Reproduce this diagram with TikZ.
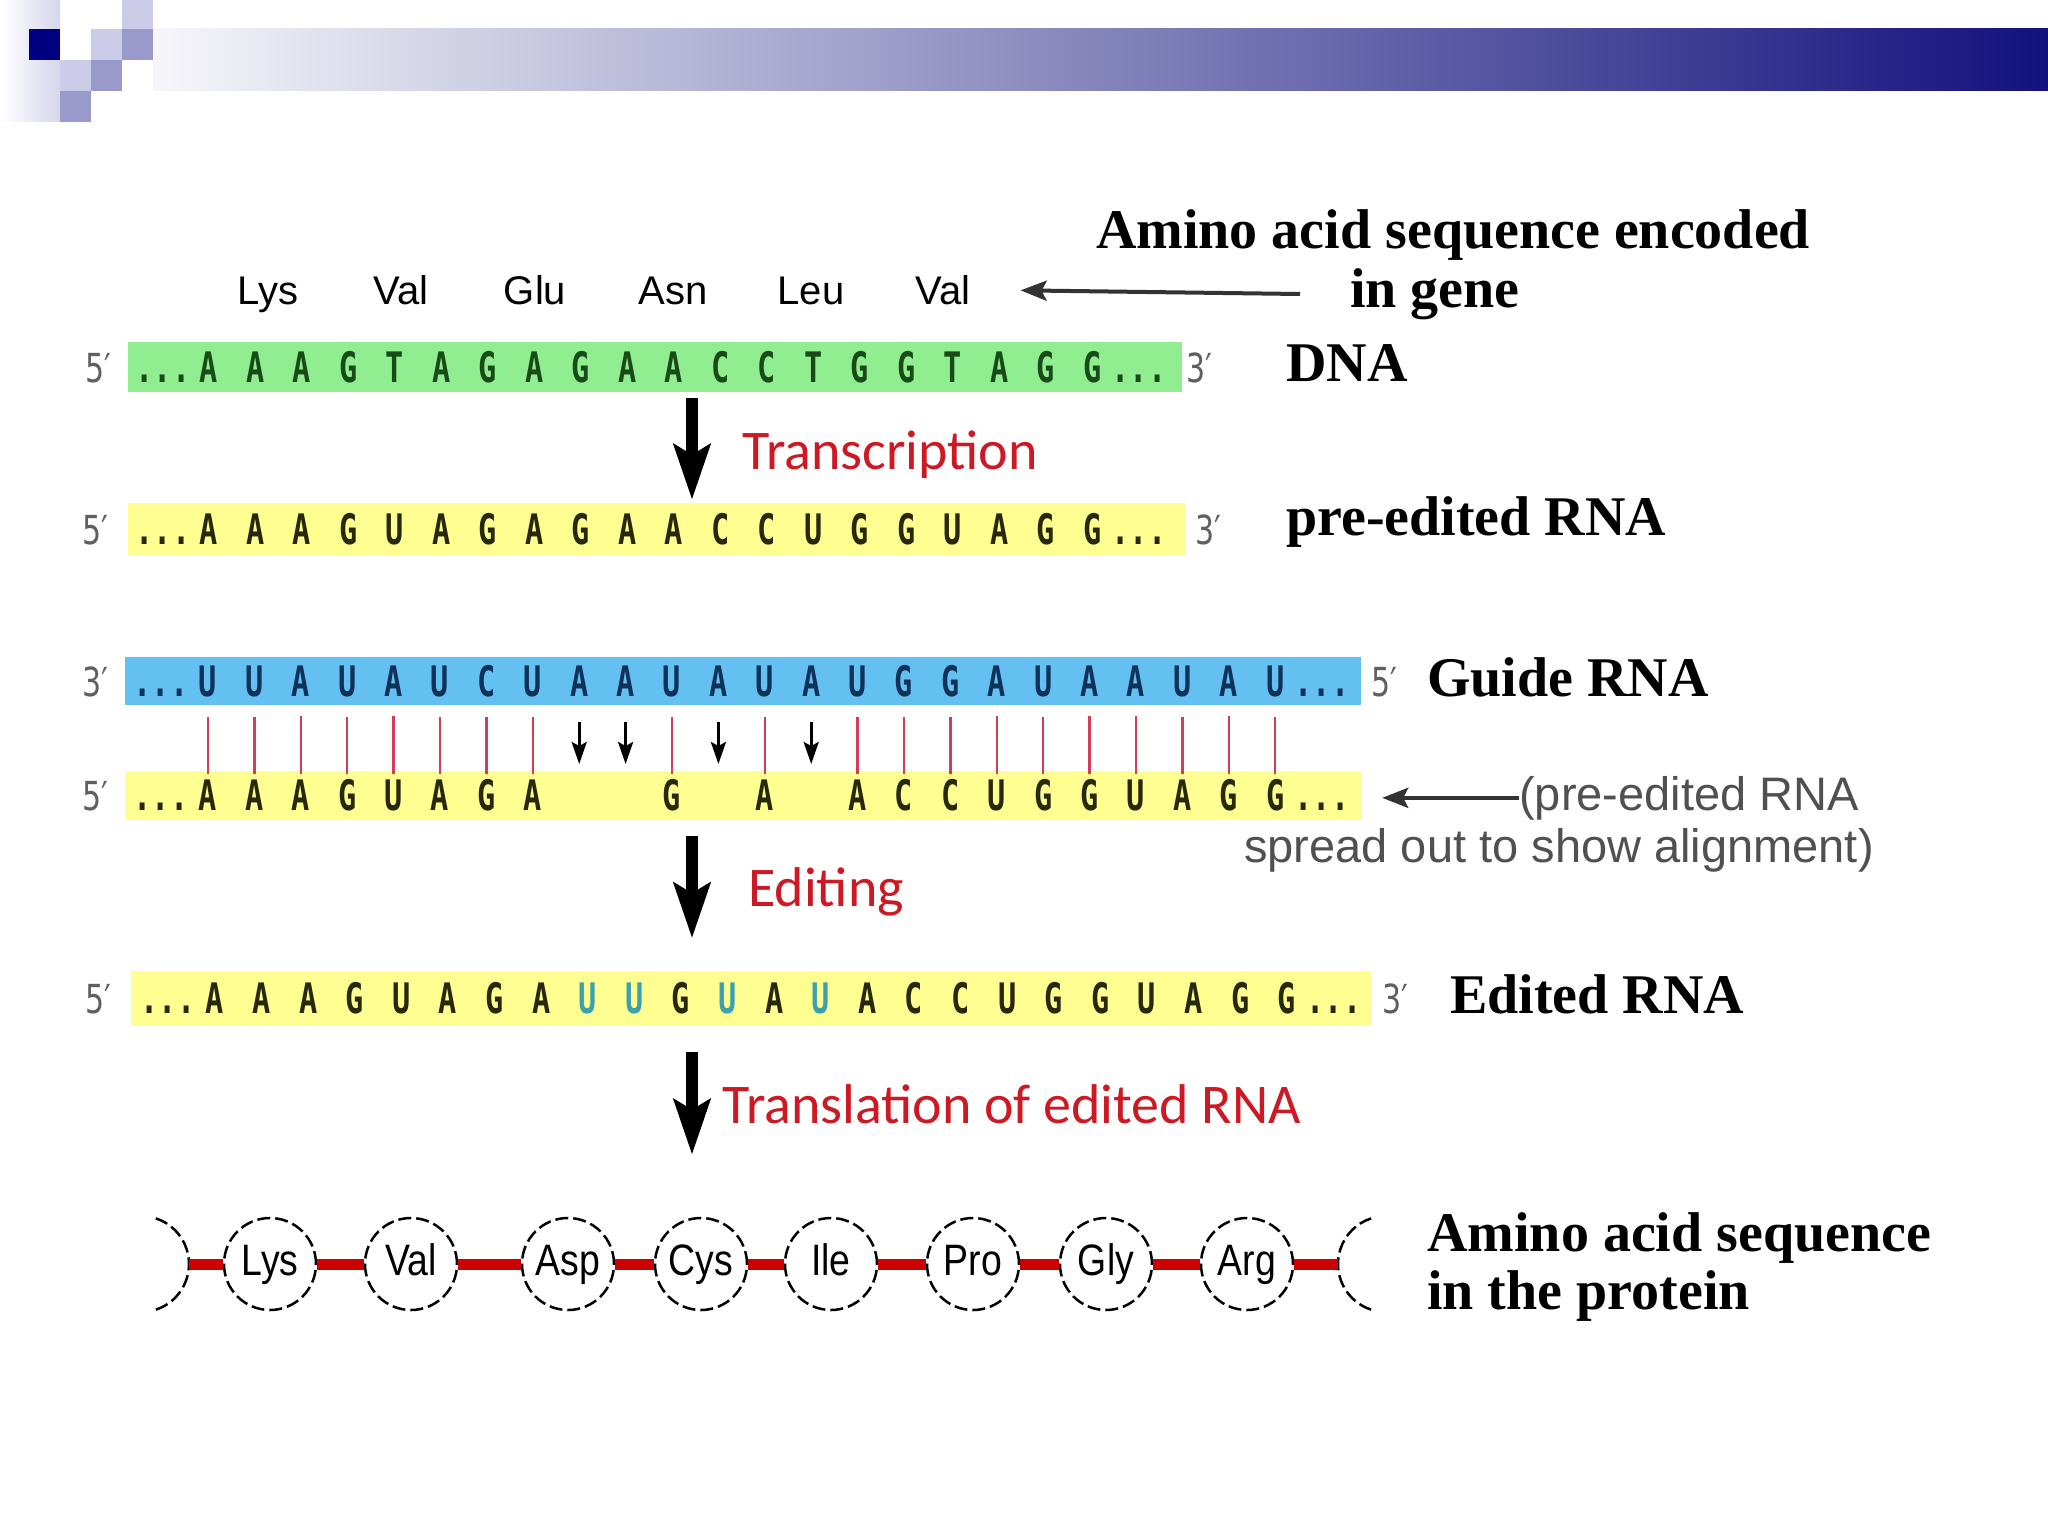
\documentclass[tikz,border=0pt]{standalone}
\usepackage{fontspec}
\setmainfont{Liberation Serif}
\newfontfamily\seqfont[FakeStretch=0.72]{DejaVu Sans Mono}
\newfontfamily\redfont{Carlito}
\newfontfamily\lblfont{Liberation Sans}
\newfontfamily\aafont[FakeStretch=0.85]{Liberation Sans}
\newfontfamily\primefont[FakeStretch=0.75]{DejaVu Sans}
\usetikzlibrary{arrows.meta,calc}

\definecolor{navyc}{RGB}{0,0,128}
\definecolor{lightsq}{RGB}{204,204,232}
\definecolor{medsq}{RGB}{153,153,204}
\definecolor{bandleft}{RGB}{246,246,250}
\definecolor{bandmid}{RGB}{145,145,198}
\definecolor{bandright}{RGB}{18,18,125}
\definecolor{dnagreen}{RGB}{144,238,144}
\definecolor{rnayellow}{RGB}{255,255,145}
\definecolor{guideblue}{RGB}{100,192,240}
\definecolor{dnaletter}{RGB}{25,75,25}
\definecolor{rnaletter}{RGB}{40,40,10}
\definecolor{guideletter}{RGB}{15,50,90}
\definecolor{editU}{RGB}{60,160,175}
\definecolor{labelred}{RGB}{205,25,35}
\definecolor{pairred}{RGB}{210,60,85}
\definecolor{bondred}{RGB}{205,0,0}
\definecolor{primegray}{RGB}{95,95,95}
\definecolor{notegray}{RGB}{80,80,80}

\begin{document}
\begin{tikzpicture}[x=1pt,y=-1pt,
  seq/.style={font=\seqfont\bfseries\fontsize{42}{44}\selectfont, inner sep=0pt, anchor=base},
  seqbar/.style={rectangle, inner sep=0pt, draw=none},
  prime/.style={font=\primefont\fontsize{40}{42}\selectfont, text=primegray, inner sep=0pt, anchor=base},
  heading/.style={font=\bfseries\fontsize{56}{60}\selectfont, inner sep=0pt, anchor=base west},
  steplabel/.style={font=\redfont\fontsize{56}{60}\selectfont, text=labelred, inner sep=0pt, anchor=base west},
  codon/.style={font=\lblfont\fontsize{40}{42}\selectfont, inner sep=0pt, anchor=base},
  note/.style={font=\lblfont\fontsize{47}{50}\selectfont, text=notegray, inner sep=0pt},
  aa/.style={circle, draw=black, line width=2.5pt, dash pattern=on 13pt off 5pt, minimum size=92pt, inner sep=0pt, text height=31pt, text depth=8pt, font=\aafont\fontsize{44}{46}\selectfont},
  aaline/.style={draw=black, line width=2.5pt, dash pattern=on 13pt off 5pt},
  bond/.style={draw=bondred, line width=11pt},
  bigarrow/.style={draw=black, line width=12pt, -{Stealth[length=55pt,width=36pt,inset=10pt]}},
  smallarrow/.style={draw=black, line width=3pt, -{Stealth[length=22pt,width=15pt,inset=4pt]}},
  harrow/.style={draw=black!80, line width=4pt, -{Stealth[length=26pt,width=20pt,inset=5pt]}},
  pairline/.style={draw=pairred, line width=2.5pt}
]
\useasboundingbox (0,0) rectangle (2048,1536);
\fill[white] (0,0) rectangle (2048,1536);

% header decoration
\shade[left color=white, right color=lightsq!80] (0,0) rectangle (60,122);
\shade[left color=bandleft, middle color=bandmid, right color=bandright] (153,29) rectangle (2048,91);
\fill[lightsq] (122,0) rectangle (153,29);
\fill[navyc] (29,29) rectangle (60,60);
\fill[lightsq] (91,29) rectangle (122,60);
\fill[medsq] (122,29) rectangle (153,60);
\fill[lightsq] (60,60) rectangle (91,91);
\fill[medsq] (91,60) rectangle (122,91);
\fill[medsq] (60,91) rectangle (91,122);

% amino acids encoded in gene
\node[heading, anchor=base] (enc1) at (1453,248) {Amino acid sequence encoded};
\node[heading, anchor=base] (enc2) at (1435,307) {in gene};
\foreach \n/\x [count=\k] in {Lys/268,Val/401,Glu/535,Asn/673,Leu/811,Val/943}
  \node[codon] (codon\k) at (\x,304) {\n};
\coordinate (encfrom) at (1300,294);
\draw[harrow, shorten >=50pt] (encfrom) -- (codon6.east);

% DNA
\node[seqbar, fill=dnagreen, minimum width=1054pt, minimum height=50pt] (dnabar) at (655,367) {};
\node[prime] (dnaFive) at (98,382) {5′};
\node[seq, text=dnaletter] (dnaL) at (163,382) {...};
\foreach \l [count=\i] in {A,A,A,G,T,A,G,A,G,A,A,C,C,T,G,G,T,A,G,G}
  \node[seq, text=dnaletter] (dna\i) at ({209+(\i-1)*46.5},382) {\l};
\node[seq, text=dnaletter] (dnaR) at (1139,382) {...};
\node[prime] (dnaThree) at (1199,382) {3′};
\node[heading] (dnalab) at (1286,381) {DNA};

% pre-edited RNA
\node[seqbar, fill=rnayellow, minimum width=1058pt, minimum height=52pt] (prebar) at (657,529) {};
\node[prime] (preFive) at (95,544) {5′};
\node[seq, text=rnaletter] (preL) at (163,544) {...};
\foreach \l [count=\i] in {A,A,A,G,U,A,G,A,G,A,A,C,C,U,G,G,U,A,G,G}
  \node[seq, text=rnaletter] (pre\i) at ({209+(\i-1)*46.5},544) {\l};
\node[seq, text=rnaletter] (preR) at (1139,544) {...};
\node[prime] (preThree) at (1208,544) {3′};
\node[heading] (prelab) at (1286,535) {pre-edited RNA};

% transcription
\coordinate (ax) at (692,0);
\draw[bigarrow] ($(dnabar.south -| ax)+(0,6)$) -- ($(prebar.north -| ax)+(0,-3)$);
\node[steplabel] (transcr) at (742,469) {Transcription};

% guide RNA
\node[seqbar, fill=guideblue, minimum width=1236pt, minimum height=48pt] (guidebar) at (743,681) {};
\node[prime] (guideThree) at (95,696) {3′};
\node[seq, text=guideletter] (guideL) at (161,696) {...};
\foreach \l [count=\i] in {U,U,A,U,A,U,C,U,A,A,U,A,U,A,U,G,G,A,U,A,A,U,A,U}
  \node[seq, text=guideletter] (guide\i) at ({208+(\i-1)*46.4},696) {\l};
\node[seq, text=guideletter] (guideR) at (1322,696) {...};
\node[prime] (guideFive) at (1384,696) {5′};
\node[heading] (guidelab) at (1427,696) {Guide RNA};

% spread pre-edited RNA
\node[seqbar, fill=rnayellow, minimum width=1237pt, minimum height=49pt] (spreadbar) at (743.5,795) {};
\node[prime] (spreadFive) at (95,810) {5′};
\node[seq, text=rnaletter] (spreadL) at (161,810) {...};
\foreach \i/\l in {1/A,2/A,3/A,4/G,5/U,6/A,7/G,8/A,11/G,13/A,15/A,16/C,17/C,18/U,19/G,20/G,21/U,22/A,23/G,24/G}
  \node[seq, text=rnaletter] (spread\i) at ({208+(\i-1)*46.4},810) {\l};
\node[seq, text=rnaletter] (spreadR) at (1322,810) {...};

% pairing lines and insertion arrows
\foreach \i in {1,2,3,4,5,6,7,8,11,13,15,16,17,18,19,20,21,22,23,24}
  \draw[pairline, shorten <=20pt, shorten >=5pt] (guide\i.south) -- (spread\i.north);
\foreach \i in {9,10,12,14} {
  \coordinate (gap\i) at ({208+(\i-1)*46.4},779);
  \draw[smallarrow, shorten <=26pt, shorten >=15pt] (guide\i.south) -- (gap\i);
}

% note
\node[note, anchor=base west] (note1) at (1519,810) {(pre-edited RNA};
\node[note, anchor=base] (note2) at (1559,862) {spread out to show alignment)};
\draw[harrow, shorten >=20pt] (note1.west) -- (note1.west -| spreadbar.east);

% edited RNA
\node[seqbar, fill=rnayellow, minimum width=1240pt, minimum height=55pt] (editbar) at (751,998) {};
\node[prime] (editFive) at (98,1013) {5′};
\node[seq, text=rnaletter] (editL) at (168,1013) {...};
\foreach \l/\c [count=\i] in {A/rnaletter,A/rnaletter,A/rnaletter,G/rnaletter,U/rnaletter,A/rnaletter,G/rnaletter,A/rnaletter,U/editU,U/editU,G/rnaletter,U/editU,A/rnaletter,U/editU,A/rnaletter,C/rnaletter,C/rnaletter,U/rnaletter,G/rnaletter,G/rnaletter,U/rnaletter,A/rnaletter,G/rnaletter,G/rnaletter}
  \node[seq, text=\c] (edit\i) at ({215+(\i-1)*46.6},1013) {\l};
\node[seq, text=rnaletter] (editR) at (1334,1013) {...};
\node[prime] (editThree) at (1395,1013) {3′};
\node[heading] (editlab) at (1450,1013) {Edited RNA};

% editing
\draw[bigarrow] ($(spreadbar.south -| ax)+(0,16)$) -- ($(editbar.north -| ax)+(0,-32)$);
\node[steplabel] (editing) at (748,906) {Editing};

% protein
\node[aa] (p1) at (270,1264) {Lys};
\node[aa] (p2) at (411,1264) {Val};
\node[aa] (p3) at (568,1264) {Asp};
\node[aa] (p4) at (701,1264) {Cys};
\node[aa] (p5) at (831,1264) {Ile};
\node[aa] (p6) at (973,1264) {Pro};
\node[aa] (p7) at (1106,1264) {Gly};
\node[aa] (p8) at (1247,1264) {Arg};

% translation
\draw[bigarrow] ($(editbar.south -| ax)+(0,26)$) -- ($(p4.north -| ax)+(0,-62)$);
\node[steplabel] (translab) at (722,1123) {Translation of edited RNA};

\coordinate (lbc) at (141,1264);
\coordinate (lb) at (189,1264);
\coordinate (rbc) at (1386,1264);
\coordinate (rb) at (1338,1264);
\draw[aaline] (lbc) ++(72:48) arc[start angle=72, end angle=-72, radius=48];
\draw[aaline] (rbc) ++(108:48) arc[start angle=108, end angle=252, radius=48];
\draw[bond] (lb) -- (p1);
\draw[bond] (p1) -- (p2);
\draw[bond] (p2) -- (p3);
\draw[bond] (p3) -- (p4);
\draw[bond] (p4) -- (p5);
\draw[bond] (p5) -- (p6);
\draw[bond] (p6) -- (p7);
\draw[bond] (p7) -- (p8);
\draw[bond] (p8) -- (rb);

\node[heading] (prot1) at (1427,1251) {Amino acid sequence};
\node[heading] (prot2) at (1427,1309) {in the protein};
\end{tikzpicture}
\end{document}
